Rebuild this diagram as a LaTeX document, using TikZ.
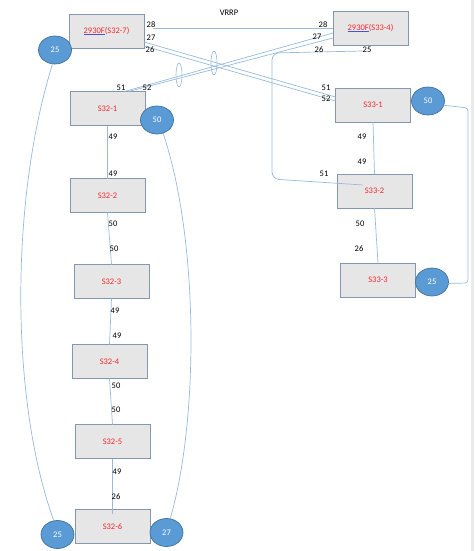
\documentclass[tikz,border=0pt]{standalone}
\usepackage{fontspec}
\setmainfont{Carlito}
\usetikzlibrary{shapes.geometric, calc}
\usetikzlibrary{positioning}
\definecolor{boxfill}{HTML}{E7E6E6}
\definecolor{boxline}{HTML}{8497B0}
\definecolor{portblue}{HTML}{5B9BD5}
\definecolor{portline}{HTML}{41719C}
\definecolor{linkblue}{HTML}{9DC3E6}
\definecolor{swred}{HTML}{F0282D}
\definecolor{spellblue}{HTML}{5050C8}
\def\lnk{linkblue!80!boxline}
\newcommand\spell[1]{\setbox0\hbox{#1}\rlap{\textcolor{spellblue}{\rule[-1.6pt]{\wd0}{0.5pt}}}\box0}
\tikzstyle{switch} = [rectangle, minimum width=75pt, minimum height=34pt, inner sep=0pt, outer sep=0pt, text centered, draw=boxline, line width=0.9pt, fill=boxfill, text=swred]
\tikzstyle{member} = [ellipse, minimum width=33pt, minimum height=28pt, inner sep=0pt, outer sep=0pt, draw=portline, line width=0.7pt, fill=portblue, text=white]
\tikzstyle{bundle} = [ellipse, minimum width=6pt, minimum height=24pt, inner sep=0pt, draw=\lnk, line width=0.6pt]
\tikzstyle{link} = [draw=\lnk, line width=0.7pt]
\tikzstyle{portno} = [inner sep=0pt, text=black]

\begin{document}
\begin{tikzpicture}[x=1pt, y=1pt, font=\fontsize{8.5}{10}\selectfont]

  \useasboundingbox (0,0) rectangle (474,-551);
  \fill[black!8] (471,0) rectangle (474,-551);

  % core pair
  \node (s327) [switch] at (106.5,-31) {\spell{2930F}(S32-7)};
  \node (s334) [switch] at (370.5,-28) {\spell{2930F}(S33-4)};
  \node (vrrp) [portno] at (229,-13) {VRRP};

  % S32 stack
  \node (s321) [switch] at (107.5,-108.5) {S32-1};
  \node (s322) [switch, below=53pt of s321] {S32-2};
  \node (s323) [switch, below=52pt of s322, xshift=4pt] {S32-3};
  \node (s324) [switch, below=46pt of s323, xshift=-2pt] {S32-4};
  \node (s325) [switch, below=46pt of s324, xshift=3pt] {S32-5};
  \node (s326) [switch, below=51pt of s325] {S32-6};

  % S33 stack
  \node (s331) [switch] at (373,-105) {S33-1};
  \node (s332) [switch, below=52pt of s331, xshift=1.5pt] {S33-2};
  \node (s333) [switch, below=55pt of s332, xshift=3.5pt] {S33-3};

  % uplinks between the core and the stacks
  \draw [link] ($(s327.east)+(9,3)$) -- (s334.west);
  \draw [link] ($(s327.south east)+(0,6)$) -- ($(s331.west)+(0,8)$);
  \draw [link] ($(s327.south east)+(0,2)$) -- ($(s331.west)+(0,4)$);
  \draw [link] ($(s321.north)+(17,0)$) -- ($(s334.south west)+(0,12)$);
  \draw [link] ($(s321.north)+(21,0)$) -- ($(s334.south west)+(0,7)$);
  \node (lagb) [bundle] at (179,-75) {};
  \node (laga) [bundle] at (214,-63) {};

  \coordinate (dropa) at ($(s334.south)+(-7.5,-6)$);
  \coordinate (dropb) at ($(s332.center)+(-11.5,6)$);
  \draw [link, rounded corners=7pt] (dropa) -- (272,-53) -- (272,-179) -- (dropb);

  % stack links
  \draw [link] (s321.south) -- (s322.north);
  \draw [link] (s322.south) -- (s323.north);
  \draw [link] (s323.south) -- (s324.north);
  \draw [link] (s324.south) -- (s325.north);
  \draw [link, line width=1.1pt] (s325.south) -- ($(s326.north)+(0,-4)$);
  \draw [link] (s331.south) -- (s332.north);
  \draw [link] (s332.south) -- (s333.north);

  % stacking ports
  \node (c1) [member] at (55,-50) {25};
  \node (c2) [member] at (157,-120) {50};
  \node (c3) [member, right=1pt of s331, yshift=4pt] {50};
  \node (c4) [member, right=0pt of s333, yshift=-2pt] {25};
  \node (c5) [member, left=1pt of s326, yshift=-8pt] {25};
  \node (c6) [member, right=0pt of s326, yshift=-6pt] {27};

  \draw [link] (c1.-100) .. controls (10,-200) and (10,-400) .. (c5.105);
  \draw [link] (c2.-65) .. controls (199,-240) and (199,-420) .. (c6.75);
  \draw [link, rounded corners=3pt] (c3.-15) -- (468,-108) -- (468,-283) -- (c4.-5);

  % port numbers
  \node (n28a) [portno] at (151,-25) {28};
  \node (n27a) [portno] at (151,-38) {27};
  \node (n26a) [portno] at (150,-50) {26};
  \node (n51a) [portno] at (121,-88) {51};
  \node (n52a) [portno] at (147,-88) {52};
  \node (n28b) [portno] at (323,-25) {28};
  \node (n27b) [portno] at (317,-37) {27};
  \node (n26b) [portno] at (319,-50) {26};
  \node (n25b) [portno] at (367,-50) {25};
  \node (n51b) [portno] at (326,-88) {51};
  \node (n52b) [portno] at (326,-99) {52};

  \node (p1) [portno] at (113,-137) {49};
  \node (p2) [portno] at (113,-174) {49};
  \node (p3) [portno] at (113,-224) {50};
  \node (p4) [portno] at (114,-249) {50};
  \node (p5) [portno] at (115,-311) {49};
  \node (p6) [portno] at (117,-336) {49};
  \node (p7) [portno] at (116,-386) {50};
  \node (p8) [portno] at (116,-410) {50};
  \node (p9) [portno] at (117,-472) {49};
  \node (p10) [portno] at (116,-497) {26};

  \node (q1) [portno] at (362,-137) {49};
  \node (q2) [portno] at (362,-162) {49};
  \node (q3) [portno] at (324,-174) {51};
  \node (q4) [portno] at (360,-224) {50};
  \node (q5) [portno] at (359,-249) {26};

\end{tikzpicture}
\end{document}
